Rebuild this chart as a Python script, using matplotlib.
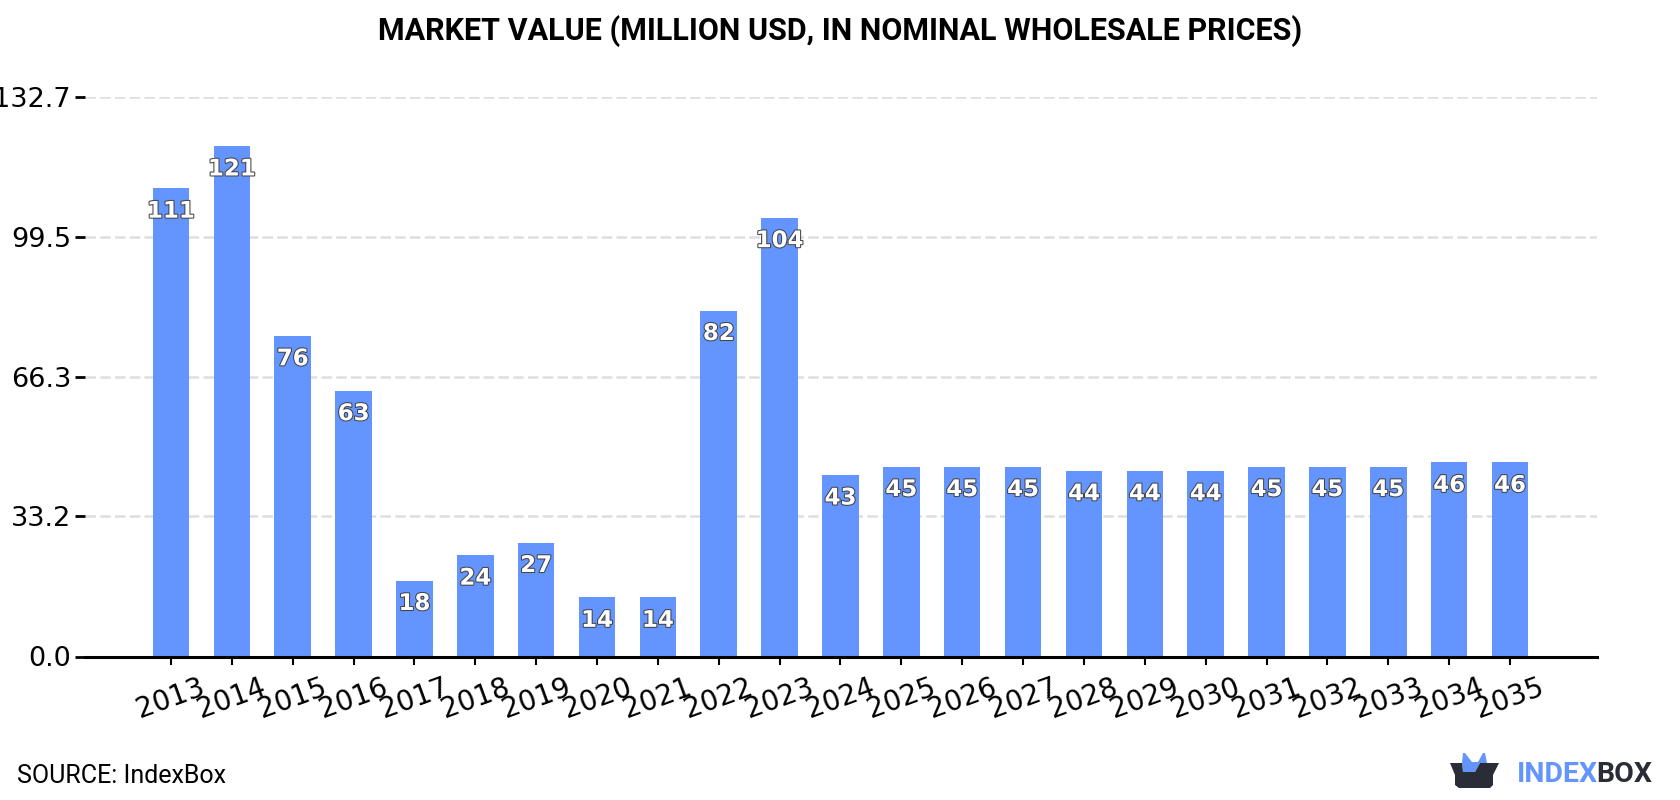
import matplotlib
matplotlib.use("Agg")
import matplotlib.pyplot as plt
import matplotlib.patheffects as pe
from matplotlib.patches import Polygon

# Data
years = [2013, 2014, 2015, 2016, 2017, 2018, 2019, 2020, 2021, 2022, 2023, 2024,
         2025, 2026, 2027, 2028, 2029, 2030, 2031, 2032, 2033, 2034, 2035]
market_value = [111, 121, 76, 63, 18, 24, 27, 14, 14, 82, 104, 43,
                45, 45, 45, 44, 44, 44, 45, 45, 45, 46, 46]
y_ticks = [0.0, 33.2, 66.3, 99.5, 132.7]

W, H = 1680, 800
BLUE = "#6495ff"
DARK = "#2a2c38"

fig = plt.figure(figsize=(W / 100, H / 100), dpi=100, facecolor="white")
ax = fig.add_axes([85 / W, 1 - 656.5 / H, (1597 - 85) / W, (656.5 - 96.7) / H])

positions = list(range(len(years)))
ax.bar(positions, market_value, width=0.6, color=BLUE, zorder=3)

# Value labels sit just under the top of each bar
for x, v in zip(positions, market_value):
    ax.annotate(str(v), (x, v), xytext=(0, -16.5), textcoords="offset points",
                ha="center", va="center", fontsize=16.5, fontweight="bold",
                color="white", zorder=4,
                path_effects=[pe.withStroke(linewidth=1.5, foreground="#444444")])

ax.set_xlim(-1.413, 23.43)
ax.set_ylim(0, 132.7)
ax.set_yticks(y_ticks)
ax.set_yticklabels([f"{t:.1f}" for t in y_ticks], fontsize=19.5)
ax.set_xticks(positions)
ax.set_xticklabels(years, fontsize=20, rotation=20, ha="center")
ax.tick_params(axis="y", length=7, width=2, pad=3)
ax.tick_params(axis="x", length=6, width=1.5, pad=6)

ax.grid(axis="y", linestyle=(0, (4.2, 1.7)), linewidth=1.8, color="#dedede", zorder=1)
ax.set_axisbelow(True)
for side in ["top", "right", "left"]:
    ax.spines[side].set_visible(False)
ax.spines["bottom"].set_linewidth(2.2)
ax.spines["bottom"].set_zorder(5)

fig.text(0.5, 1 - 31.5 / H, "MARKET VALUE (MILLION USD, IN NOMINAL WHOLESALE PRICES)",
         ha="center", va="center", fontsize=22, fontweight="bold",
         family="Roboto", color="black")
fig.text(17 / W, 1 - 776 / H, "SOURCE: IndexBox", ha="left", va="center",
         fontsize=18, family="Roboto", color="black")

# Logo: a dark open box with a blue crown rising out of it
def px(points):
    return [(x / W, 1 - y / H) for x, y in points]

crown = [(1462, 763), (1463, 753), (1465, 753), (1472, 762), (1478, 762),
         (1483, 753), (1485, 753), (1487, 763), (1480, 763), (1475, 772), (1463, 772)]
box = [(1450, 763), (1462, 763), (1463, 772), (1475, 772), (1480, 763),
       (1499, 763), (1493, 775), (1493, 785), (1490, 788), (1459, 788),
       (1455, 785), (1455, 775)]
fig.add_artist(Polygon(px(crown), closed=True, transform=fig.transFigure,
                       facecolor=BLUE, edgecolor="none"))
fig.add_artist(Polygon(px(box), closed=True, transform=fig.transFigure,
                       facecolor=DARK, edgecolor="none"))
fig.text(1517 / W, 1 - 774 / H, "INDEX", ha="left", va="center", fontsize=20.5,
         fontweight="bold", family="Roboto", color=BLUE)
fig.text(1596 / W, 1 - 774 / H, "BOX", ha="left", va="center", fontsize=20.5,
         fontweight="bold", family="Roboto", color=DARK)

fig.savefig("out.png", dpi=100)
